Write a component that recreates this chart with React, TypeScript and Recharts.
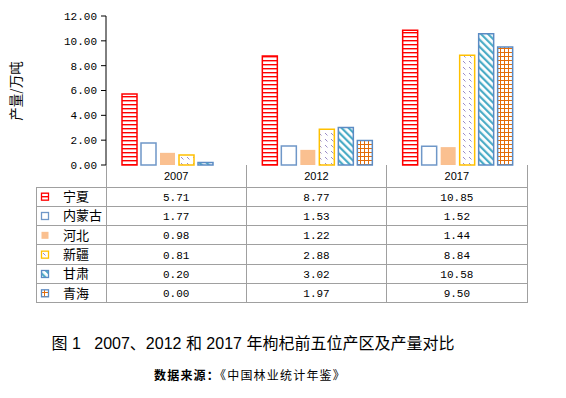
import React from 'react';
import { BarChart, Bar, XAxis, YAxis } from 'recharts';

const years = ['2007', '2012', '2017'];
const regions = ['宁夏', '内蒙古', '河北', '新疆', '甘肃', '青海'];
const ningxia = [5.71, 8.77, 10.85];
const neimenggu = [1.77, 1.53, 1.52];
const hebei = [0.98, 1.22, 1.44];
const xinjiang = [0.81, 2.88, 8.84];
const gansu = [0.2, 3.02, 10.58];
const qinghai = [0.0, 1.97, 9.5];
const yTicks = [0, 2, 4, 6, 8, 10, 12];

const seriesKeys = ['ningxia', 'neimenggu', 'hebei', 'xinjiang', 'gansu', 'qinghai'];
const seriesValues = [ningxia, neimenggu, hebei, xinjiang, gansu, qinghai];
const seriesStyles = [
  { fill: 'url(#pat-nx)', stroke: '#ff0000' },
  { fill: '#ffffff', stroke: '#6f97c8' },
  { fill: '#fac090', stroke: 'none' },
  { fill: 'url(#pat-xj)', stroke: '#ffc000' },
  { fill: 'url(#pat-gs)', stroke: '#5b8bc4' },
  { fill: 'url(#pat-qh)', stroke: '#5b8bc4' },
];

const chartData = years.map((year, i) => {
  const row: Record<string, string | number> = { year };
  seriesKeys.forEach((key, s) => {
    row[key] = seriesValues[s][i];
  });
  return row;
});

// table geometry (matches the plot band: 106 -> 527)
const colX = [36, 106, 246.3, 386.7, 527];
const headTop = 165;
const headBottom = 187;
const rowH = 19.33;
const tableBottom = headBottom + rowH * regions.length;
const gridColor = '#a0a0a0';

const monoFont = '"Liberation Mono", "DejaVu Sans Mono", monospace';
const cjkFont = '"Noto Sans CJK SC", "Liberation Sans", sans-serif';

const Patterns = () => (
  <svg width={0} height={0} style={{ position: 'absolute' }}>
    <defs>
      <pattern id="pat-nx" width={4} height={4} patternUnits="userSpaceOnUse">
        <rect width={4} height={4} fill="#ffffff" />
        <rect y={0} width={4} height={1} fill="#ff0000" />
        <rect y={1} width={4} height={1} fill="#ff9999" />
      </pattern>
      <pattern id="pat-xj" width={6} height={6} patternUnits="userSpaceOnUse">
        <rect width={6} height={6} fill="#ffffff" />
        <line x1={1} y1={1} x2={3.5} y2={3.5} stroke="#8f7fc0" strokeWidth={0.9} />
      </pattern>
      <pattern id="pat-gs" width={5} height={5} patternUnits="userSpaceOnUse" patternTransform="rotate(-45)">
        <rect width={5} height={5} fill="#ffffff" />
        <rect x={0} width={2.2} height={5} fill="#4bacc6" />
      </pattern>
      <pattern id="pat-qh" width={4} height={4} patternUnits="userSpaceOnUse">
        <rect width={4} height={4} fill="#ffffff" />
        <rect x={0} width={1} height={4} fill="#e36c09" />
        <rect y={0} width={4} height={1} fill="#e36c09" />
      </pattern>
    </defs>
  </svg>
);

const Overlay = () => (
  <svg width={566} height={398} style={{ position: 'absolute', left: 0, top: 0, pointerEvents: 'none' }}>
    <text
      transform="translate(21,91) rotate(-90)"
      textAnchor="middle"
      fontFamily={cjkFont}
      fontSize={13.5}
      fill="#000"
    >
      产量/万吨
    </text>

    {/* table grid */}
    <g stroke={gridColor} strokeWidth={1} shapeRendering="crispEdges">
      <line x1={colX[1]} y1={headBottom} x2={colX[4]} y2={headBottom} />
      <line x1={colX[0]} y1={headBottom} x2={colX[1]} y2={headBottom} />
      {regions.map((_, i) => (
        <line key={i} x1={colX[0]} y1={headBottom + rowH * (i + 1)} x2={colX[4]} y2={headBottom + rowH * (i + 1)} />
      ))}
      <line x1={colX[0]} y1={headBottom} x2={colX[0]} y2={tableBottom} />
      {colX.slice(1).map((x, i) => (
        <line key={i} x1={x} y1={headTop} x2={x} y2={tableBottom} />
      ))}
    </g>

    {years.map((year, c) => (
      <text
        key={year}
        x={(colX[c + 1] + colX[c + 2]) / 2}
        y={180}
        textAnchor="middle"
        fontFamily='"Liberation Sans", Arial, sans-serif'
        fontSize={11}
        fill="#000"
      >
        {year}
      </text>
    ))}

    {regions.map((name, r) => {
      const cy = headBottom + rowH * r + rowH / 2;
      const st = seriesStyles[r];
      return (
        <g key={name}>
          <rect
            x={41.5}
            y={cy - 3.5}
            width={7}
            height={7}
            fill={st.fill}
            stroke={st.stroke === 'none' ? 'none' : st.stroke}
            strokeWidth={1.3}
          />
          <text x={63} y={cy + 4.5} fontFamily={cjkFont} fontSize={13} fill="#000">
            {name}
          </text>
          {seriesValues[r].map((v, c) => (
            <text
              key={c}
              x={(colX[c + 1] + colX[c + 2]) / 2}
              y={cy + 4}
              textAnchor="middle"
              fontFamily={monoFont}
              fontSize={11}
              fill="#000"
            >
              {v.toFixed(2)}
            </text>
          ))}
        </g>
      );
    })}

    <text x={253} y={349} textAnchor="middle" fontFamily={`"Liberation Sans", ${cjkFont}`} fontSize={16} fill="#000" style={{ whiteSpace: 'pre' }}>
      {'图 1   2007、2012 和 2017 年枸杞前五位产区及产量对比'}
    </text>
    <text x={250} y={380} textAnchor="middle" fontFamily={cjkFont} fontSize={12} fill="#000" letterSpacing={1.2}>
      <tspan fontWeight="bold">数据来源：</tspan>
      <tspan>《中国林业统计年鉴》</tspan>
    </text>
  </svg>
);

const App: React.FC = () => {
  return (
    <div style={{ position: 'absolute', left: 0, top: 0, width: 566, height: 398, background: '#fff' }}>
      <Patterns />
      <BarChart
        width={566}
        height={175}
        data={chartData}
        margin={{ top: 16, right: 39, left: 0, bottom: 10 }}
        barCategoryGap={16}
        barGap={4}
      >
        <XAxis
          dataKey="year"
          tick={false}
          tickLine={false}
          height={0}
          axisLine={{ stroke: gridColor, strokeWidth: 1 }}
        />
        <YAxis
          width={106}
          domain={[0, 12]}
          ticks={yTicks}
          interval={0}
          tickFormatter={(v: number) => v.toFixed(2)}
          tick={{ fill: '#000', fontSize: 11, fontFamily: monoFont }}
          tickSize={5}
          tickMargin={4}
          axisLine={{ stroke: '#000', strokeWidth: 1 }}
          tickLine={{ stroke: '#000' }}
        />
        {seriesKeys.map((key, s) => (
          <Bar
            key={key}
            dataKey={key}
            name={regions[s]}
            fill={seriesStyles[s].fill}
            stroke={seriesStyles[s].stroke}
            strokeWidth={1.5}
            isAnimationActive={false}
          />
        ))}
      </BarChart>
      <Overlay />
    </div>
  );
};

export default App;
